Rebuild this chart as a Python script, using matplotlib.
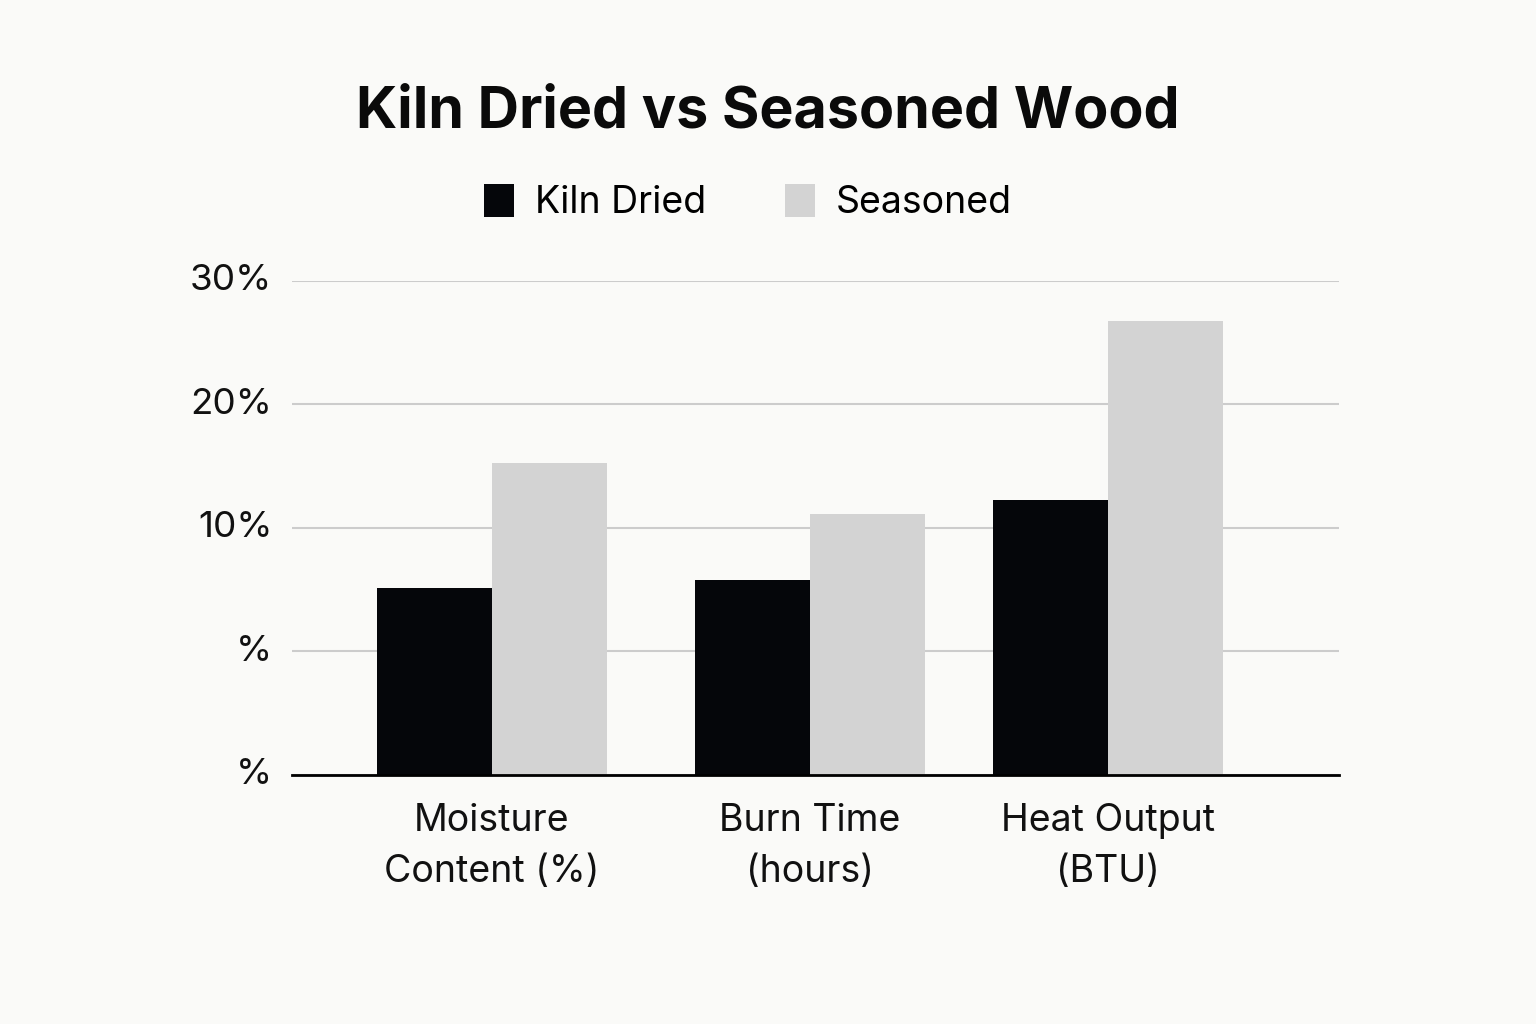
import matplotlib
matplotlib.use("Agg")
import matplotlib.pyplot as plt
import numpy as np

categories = ["Moisture\nContent (%)", "Burn Time\n(hours)", "Heat Output\n(BTU)"]
kiln_dried = [15.1, 15.8, 22.3]
seasoned = [25.3, 21.1, 36.8]
tick_values = [0, 10, 20, 30, 40]
tick_labels = ["%", "%", "10%", "20%", "30%"]

plt.rcParams['font.family'] = ['Inter', 'DejaVu Sans']
bg = "#fafaf8"
fig = plt.figure(figsize=(15.36, 10.24), dpi=100, facecolor=bg)
ax = fig.add_axes([0.190, 0.2432, 0.682, 0.4824], facecolor=bg)

x = np.array([0, 1.032, 2.0])
w = 0.373
ax.bar(x - w/2, kiln_dried, w, color="#05060a", label="Kiln Dried", zorder=3)
ax.bar(x + w/2, seasoned, w, color="#d3d3d3", label="Seasoned", zorder=3)

ax.set_xlim(-0.649, 2.75)
ax.set_ylim(0, 40)
ax.set_yticks(tick_values)
ax.set_yticklabels(tick_labels)
ax.set_xticks(x)
ax.set_xticklabels(categories, linespacing=1.55)
ax.yaxis.grid(True, color="#cccccc", linewidth=1.5, zorder=0)
for s in ["top", "right", "left"]:
    ax.spines[s].set_visible(False)
ax.spines["bottom"].set_linewidth(2)
ax.spines["bottom"].set_color("#000000")
ax.spines["bottom"].set_zorder(4)
ax.tick_params(axis="both", length=0, colors="#111111")
ax.tick_params(axis="y", pad=14, labelsize=26.5)
ax.tick_params(axis="x", pad=20, labelsize=27)
for t in ax.get_yticklabels():
    t.set_va("center")

fig.text(0.5, 0.890, "Kiln Dried vs Seasoned Wood", ha="center", va="center",
         fontsize=41.3, fontweight="bold", color="#0a0a0a")
fig.legend(loc="center", bbox_to_anchor=(0.487, 0.802), ncol=2, frameon=False,
           fontsize=27, handlelength=0.8, handleheight=0.95, handletextpad=0.55,
           columnspacing=2.1)

fig.savefig("out.png", dpi=100, facecolor=bg)
